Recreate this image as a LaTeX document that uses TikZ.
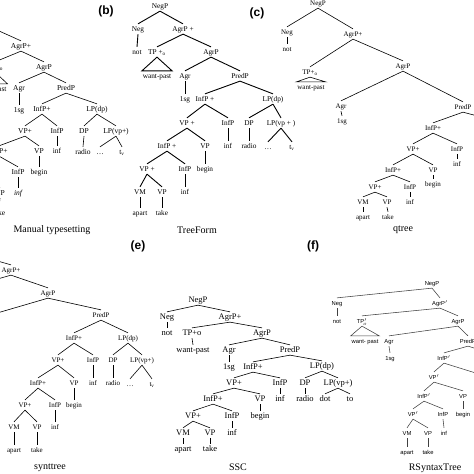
\documentclass[tikz,border=0pt]{standalone}
\usepackage{fontspec}
\setmainfont{Liberation Serif}
\newfontfamily\rsans{Liberation Sans}
\newcommand\tredge[3][br]{\foreach \kid in {#3}{\draw[#1] (#2.south) -- (\kid.north);}}
\newcommand\trtri[3][br]{\draw[#1] (#2.south) -- (#3.north west) -- (#3.north east) -- cycle;}
\begin{document}
\begin{tikzpicture}[x=1pt,y=-1pt,
  br/.style={line width=0.6pt},
  brb/.style={line width=0.9pt},
  brf/.style={line width=0.55pt, black!75},
  nd/.style={inner sep=0.7pt, text height=1.5ex, text depth=0.35ex},
  ta/.style={nd, font=\fontsize{7.5}{8}\selectfont},
  tb/.style={nd, font=\fontsize{7.3}{8}\selectfont},
  tc/.style={nd, font=\fontsize{7}{8}\selectfont},
  td/.style={nd, font=\fontsize{7}{8}\selectfont},
  te/.style={nd, font=\fontsize{8.5}{9}\selectfont},
  tf/.style={nd, font=\rsans\fontsize{5.8}{7}\selectfont},
  captxt/.style={font=\fontsize{10}{12}\selectfont, inner sep=0pt},
  plab/.style={font=\rsans\bfseries\fontsize{12}{14}\selectfont, inner sep=0pt}]
\useasboundingbox (0,0) rectangle (474,474);
\clip (0,0) rectangle (474,474);

% ---------------- (a) Manual typesetting ----------------
\coordinate (aNegc) at (-12,26);
\node[ta] (aAgrPp) at (21,46) {AgrP+};
\node[ta] (aTPp) at (-5,67) {TP+\textsubscript{o}};
\node[ta] (awant) at (-8,89) {want-past};
\node[ta] (aAgrP) at (44,67) {AgrP};
\node[ta] (aAgr) at (19,88) {Agr};
\node[ta] (aPredP) at (66,88) {PredP};
\node[ta] (a1sg) at (19,110) {1sg};
\node[ta] (aInfPp) at (42,109) {InfP+};
\node[ta] (aLPdp) at (97,109) {LP(dp)};
\node[ta] (aVPp) at (25,131) {VP+};
\node[ta] (aInfP) at (57,131) {InfP};
\node[ta] (aDP) at (84,131) {DP};
\node[ta] (aLPvp) at (116,131) {LP(vp+)};
\node[ta] (aInfPp2) at (-1,151) {InfP+};
\node[ta] (aVP) at (39,151) {VP};
\node[ta] (ainf) at (57,151) {inf};
\node[ta] (aradio) at (83,152) {radio};
\node[ta] (adots) at (100,152) {\dots};
\node[ta] (atv) at (122,152) {t\textsubscript{v}};
\node[ta] (aVPp2) at (-16,172) {VP+};
\node[ta] (aInfP2) at (18,172) {InfP};
\node[ta] (abegin) at (39,172) {begin};
\node[ta] (aVP2) at (0,193) {VP};
\node[ta] (ainf2) at (18,193) {\itshape inf};
\node[ta] (atake) at (-1,213) {take};
\node[captxt] (acap) at (52,230) {Manual typesetting};
\draw[br] (aNegc) -- (aAgrPp.north);
\tredge{aAgrPp}{aTPp,aAgrP}
\trtri{aTPp}{awant}
\tredge{aAgrP}{aAgr,aPredP}
\tredge{aAgr}{a1sg}
\tredge{aPredP}{aInfPp,aLPdp}
\tredge{aInfPp}{aVPp,aInfP}
\tredge{aLPdp}{aDP,aLPvp}
\tredge{aVPp}{aInfPp2,aVP}
\tredge{aInfP}{ainf}
\tredge{aDP}{aradio}
\tredge{aLPvp}{adots,atv}
\tredge{aVP}{abegin}
\tredge{aInfPp2}{aVPp2,aInfP2}
\tredge{aInfP2}{ainf2}
\tredge{aVPp2}{aVP2}
\tredge{aVP2}{atake}

% ---------------- (b) TreeForm ----------------
\node[plab] (blab) at (106,11) {(b)};
\node[tb] (bNegP) at (160,6) {NegP};
\node[tb] (bNeg) at (138,29) {Neg};
\node[tb] (bAgrPp) at (183,29) {AgrP +};
\node[tb] (bnot) at (137,52) {not};
\node[tb] (bTPp) at (157,52) {TP +\textsubscript{o}};
\node[tb] (bAgrP) at (211,52) {AgrP};
\node[tb] (bwant) at (157,76) {want-past};
\node[tb] (bAgr) at (185,76) {Agr};
\node[tb] (bPredP) at (240,76) {PredP};
\node[tb] (b1sg) at (185,99) {1sg};
\node[tb] (bInfPp) at (205,99) {InfP +};
\node[tb] (bLPdp) at (273,99) {LP(dp)};
\node[tb] (bVPp) at (187,123) {VP +};
\node[tb] (bInfP) at (228,123) {InfP};
\node[tb] (bDP) at (249,123) {DP};
\node[tb] (bLPvp) at (281,123) {LP(vp + )};
\node[tb] (bInfPp2) at (167,146) {InfP +};
\node[tb] (bVP) at (205,146) {VP};
\node[tb] (binf) at (228,146) {inf};
\node[tb] (bradio) at (249,146) {radio};
\node[tb] (bdots) at (268,147) {\dots};
\node[tb] (btv) at (292,147) {t\textsubscript{v}};
\node[tb] (bVPp2) at (147,169) {VP +};
\node[tb] (bInfP2) at (185,169) {InfP};
\node[tb] (bbegin) at (205,169) {begin};
\node[tb] (bVM) at (140,192) {VM};
\node[tb] (bVP2) at (162,192) {VP};
\node[tb] (binf2) at (185,192) {inf};
\node[tb] (bapart) at (140,213) {apart};
\node[tb] (btake) at (162,213) {take};
\node[captxt] (bcap) at (197,230) {TreeForm};
\tredge[brb]{bNegP}{bNeg,bAgrPp}
\tredge[brb]{bNeg}{bnot}
\tredge[brb]{bAgrPp}{bTPp,bAgrP}
\trtri[brb]{bTPp}{bwant}
\tredge[brb]{bAgrP}{bAgr,bPredP}
\tredge[brb]{bAgr}{b1sg}
\tredge[brb]{bPredP}{bInfPp,bLPdp}
\tredge[brb]{bInfPp}{bVPp,bInfP}
\tredge[brb]{bLPdp}{bDP,bLPvp}
\tredge[brb]{bVPp}{bInfPp2,bVP}
\tredge[brb]{bInfP}{binf}
\tredge[brb]{bDP}{bradio}
\tredge[brb]{bLPvp}{bdots,btv}
\tredge[brb]{bInfPp2}{bVPp2,bInfP2}
\tredge[brb]{bVP}{bbegin}
\tredge[brb]{bVPp2}{bVM,bVP2}
\tredge[brb]{bInfP2}{binf2}
\tredge[brb]{bVM}{bapart}
\tredge[brb]{bVP2}{btake}

% ---------------- (c) qtree ----------------
\node[plab] (clab) at (257,13) {(c)};
\node[tc] (cNegP) at (318,3) {NegP};
\node[tc] (cNeg) at (287,32) {Neg};
\node[tc] (cnot) at (287,49) {not};
\node[tc] (cAgrPp) at (353,34) {AgrP+};
\node[tc] (cTPp) at (310,72) {TP+\textsubscript{o}};
\node[tc] (cwant) at (311,87) {want-past};
\node[tc] (cAgrP) at (403,66) {AgrP};
\node[tc] (cAgr) at (341,106) {Agr};
\node[tc] (c1sg) at (342,121) {1sg};
\node[tc] (cPredP) at (463,107) {PredP};
\coordinate (cPredR) at (500,122);
\node[tc] (cInfPp) at (433,128) {InfP+};
\node[tc] (cVPp) at (413,149) {VP+};
\node[tc] (cInfP) at (457,149) {InfP};
\node[tc] (cinf) at (457,164) {inf};
\node[tc] (cInfPp2) at (393,170) {InfP+};
\node[tc] (cVP) at (433,170) {VP};
\node[tc] (cbegin) at (433,184) {begin};
\node[tc] (cVPp2) at (375,187) {VP+};
\node[tc] (cInfP2) at (410,187) {InfP};
\node[tc] (cinf2) at (410,202) {inf};
\node[tc] (cVM) at (363,202) {VM};
\node[tc] (cVP2) at (387,202) {VP};
\node[tc] (capart) at (363,217) {apart};
\node[tc] (ctake) at (388,217) {take};
\node[captxt] (ccap) at (403,230) {qtree};
\tredge{cNegP}{cNeg,cAgrPp}
\tredge{cNeg}{cnot}
\tredge{cAgrPp}{cTPp,cAgrP}
\trtri{cTPp}{cwant}
\tredge{cAgrP}{cAgr,cPredP}
\tredge{cAgr}{c1sg}
\tredge{cPredP}{cInfPp}
\draw[br] (cPredP.south) -- (cPredR);
\tredge{cInfPp}{cVPp,cInfP}
\tredge{cVPp}{cInfPp2,cVP}
\tredge{cInfP}{cinf}
\tredge{cInfPp2}{cVPp2,cInfP2}
\tredge{cVP}{cbegin}
\tredge{cVPp2}{cVM,cVP2}
\tredge{cInfP2}{cinf2}
\tredge{cVM}{capart}
\tredge{cVP2}{ctake}

% ---------------- (d) synttree ----------------
\coordinate (dNegc) at (-20,256);
\coordinate (dTPc) at (-20,284);
\coordinate (dAgrc) at (-20,318);
\node[td] (dAgrPp) at (11,270) {AgrP+};
\node[td] (dAgrP) at (48,293) {AgrP};
\node[td] (dPredP) at (101,315) {PredP};
\node[td] (dInfPp) at (74,338) {InfP+};
\node[td] (dLPdp) at (128,338) {LP(dp)};
\node[td] (dVPp) at (58,360) {VP+};
\node[td] (dInfP) at (93,360) {InfP};
\node[td] (dDP) at (113,360) {DP};
\node[td] (dLPvp) at (142,360) {LP(vp+)};
\node[td] (dInfPp2) at (38,383) {InfP+};
\node[td] (dVP) at (74,383) {VP};
\node[td] (dinf) at (93,383) {inf};
\node[td] (dradio) at (113,383) {radio};
\node[td] (ddots) at (130,384) {\dots};
\node[td] (dtv) at (152,384) {t\textsubscript{v}};
\node[td] (dVPp2) at (25,405) {VP+};
\node[td] (dInfP2) at (55,405) {InfP};
\node[td] (dbegin) at (74,405) {begin};
\node[td] (dVM) at (14,427) {VM};
\node[td] (dVP2) at (37,427) {VP};
\node[td] (dinf2) at (55,427) {inf};
\node[td] (dapart) at (14,450) {apart};
\node[td] (dtake) at (37,450) {take};
\node[captxt] (dcap) at (50,468) {synttree};
\draw[br] (dNegc) -- (dAgrPp.north);
\draw[br] (dAgrPp.south) -- (dTPc);
\tredge{dAgrPp}{dAgrP}
\draw[br] (dAgrP.south) -- (dAgrc);
\tredge{dAgrP}{dPredP}
\tredge{dPredP}{dInfPp,dLPdp}
\tredge{dInfPp}{dVPp,dInfP}
\tredge{dLPdp}{dDP,dLPvp}
\tredge{dVPp}{dInfPp2,dVP}
\tredge{dInfP}{dinf}
\tredge{dDP}{dradio}
\tredge{dLPvp}{ddots,dtv}
\tredge{dInfPp2}{dVPp2,dInfP2}
\tredge{dVP}{dbegin}
\tredge{dVPp2}{dVM,dVP2}
\tredge{dInfP2}{dinf2}
\tredge{dVM}{dapart}
\tredge{dVP2}{dtake}

% ---------------- (e) SSC ----------------
\node[plab] (elab) at (138,246) {(e)};
\node[te] (eNegP) at (198,300) {NegP};
\node[te] (eNeg) at (167,317) {Neg};
\node[te] (eAgrPp) at (230,317) {AgrP+};
\node[te] (enot) at (167,333) {not};
\node[te] (eTPp) at (192,333) {TP+o};
\node[te] (eAgrP) at (262,333) {AgrP};
\node[te] (ewant) at (193,350) {want-past};
\node[te] (eAgr) at (229,350) {Agr};
\node[te] (ePredP) at (290,350) {PredP};
\node[te] (e1sg) at (229,367) {1sg};
\node[te] (eInfPp) at (253,367) {InfP+};
\node[te] (eLPdp) at (322,366) {LP(dp)};
\node[te] (eVPp) at (234,383) {VP+};
\node[te] (eInfP) at (280,383) {InfP};
\node[te] (eDP) at (305,383) {DP};
\node[te] (eLPvp) at (338,383) {LP(vp+)};
\node[te] (eInfPp2) at (213,399) {InfP+};
\node[te] (eVP) at (260,399) {VP};
\node[te] (einf) at (280,399) {inf};
\node[te] (eradio) at (305,399) {radio};
\node[te] (edot) at (325,399) {dot};
\node[te] (eto) at (350,399) {to};
\node[te] (eVPp2) at (193,416) {VP+};
\node[te] (eInfP2) at (232,416) {InfP};
\node[te] (ebegin) at (260,416) {begin};
\node[te] (eVM) at (183,433) {VM};
\node[te] (eVP2) at (210,433) {VP};
\node[te] (einf2) at (232,433) {inf};
\node[te] (eapart) at (183,449) {apart};
\node[te] (etake) at (210,449) {take};
\node[captxt] (ecap) at (238,467) {SSC};
\tredge{eNegP}{eNeg,eAgrPp}
\tredge{eNeg}{enot}
\tredge{eAgrPp}{eTPp,eAgrP}
\tredge{eTPp}{ewant}
\tredge{eAgrP}{eAgr,ePredP}
\tredge{eAgr}{e1sg}
\tredge{ePredP}{eInfPp,eLPdp}
\tredge{eInfPp}{eVPp,eInfP}
\tredge{eLPdp}{eDP,eLPvp}
\tredge{eVPp}{eInfPp2,eVP}
\tredge{eInfP}{einf}
\tredge{eDP}{eradio}
\tredge{eLPvp}{edot,eto}
\tredge{eInfPp2}{eVPp2,eInfP2}
\tredge{eVP}{ebegin}
\tredge{eVPp2}{eVM,eVP2}
\tredge{eInfP2}{einf2}
\tredge{eVM}{eapart}
\tredge{eVP2}{etake}

% ---------------- (f) RSyntaxTree ----------------
\node[plab] (flab) at (313,246) {(f)};
\node[tf] (fNegP) at (432,283) {NegP};
\node[tf] (fNeg) at (337,303) {Neg};
\node[tf] (fAgrPp) at (440,303) {AgrP$'$};
\node[tf] (fnot) at (337,321) {not};
\node[tf] (fTPp) at (362,321) {TP$'_{\!o}$};
\node[tf] (fAgrP) at (458,321) {AgrP};
\node[tf] (fwant) at (365,341) {want- past};
\node[tf] (fAgr) at (389,341) {Agr};
\node[tf] (fPredP) at (468,341) {PredP};
\coordinate (fPredR) at (500,356);
\node[tf] (f1sg) at (390,358) {1sg};
\node[tf] (fInfPp) at (444,358) {InfP$'$};
\coordinate (fInfR) at (495,379);
\node[tf] (fVPp) at (434,377) {VP$'$};
\node[tf] (fInfPp2) at (424,396) {InfP$'$};
\node[tf] (fVP) at (463,396) {VP};
\node[tf] (fVPp2) at (413,414) {VP$'$};
\node[tf] (fInfP) at (443,414) {InfP};
\node[tf] (fbegin) at (463,414) {begin};
\node[tf] (fVM) at (407,433) {VM};
\node[tf] (fVP2) at (428,433) {VP};
\node[tf] (finf) at (444,433) {inf};
\node[tf] (fapart) at (407,452) {apart};
\node[tf] (ftake) at (428,452) {take};
\node[captxt] (fcap) at (435,468) {RSyntaxTree};
\tredge[brf]{fNegP}{fNeg,fAgrPp}
\tredge[brf]{fNeg}{fnot}
\tredge[brf]{fAgrPp}{fTPp,fAgrP}
\trtri[brf]{fTPp}{fwant}
\tredge[brf]{fAgrP}{fAgr,fPredP}
\tredge[brf]{fAgr}{f1sg}
\tredge[brf]{fPredP}{fInfPp}
\draw[brf] (fPredP.south) -- (fPredR);
\tredge[brf]{fInfPp}{fVPp}
\draw[brf] (fInfPp.south) -- (fInfR);
\tredge[brf]{fVPp}{fInfPp2,fVP}
\tredge[brf]{fInfPp2}{fVPp2,fInfP}
\tredge[brf]{fVP}{fbegin}
\tredge[brf]{fVPp2}{fVM,fVP2}
\tredge[brf]{fInfP}{finf}
\tredge[brf]{fVM}{fapart}
\tredge[brf]{fVP2}{ftake}
\end{tikzpicture}
\end{document}
